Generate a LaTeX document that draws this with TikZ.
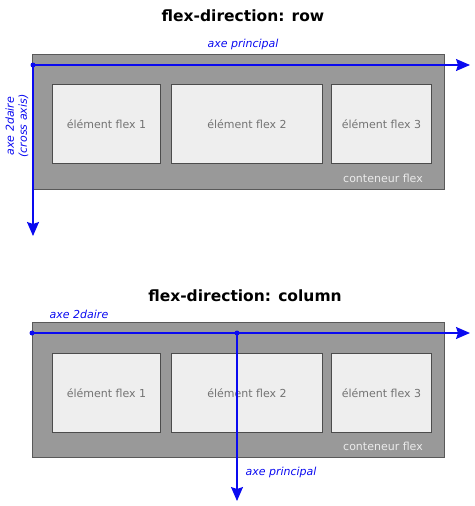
\documentclass[tikz,border=0pt]{standalone}
\usepackage{fontspec}
\setmainfont{DejaVu Sans}
\usetikzlibrary{arrows.meta}
\definecolor{axisblue}{RGB}{10,10,240}
\definecolor{boxgray}{RGB}{153,153,153}
\definecolor{itemgray}{RGB}{238,238,238}
\tikzset{
  container/.style={draw=black!65, fill=boxgray, line width=1pt, anchor=north west, inner sep=0pt},
  item/.style={draw=black!70, fill=itemgray, line width=1pt, anchor=north west, inner sep=0pt,
    font=\fontsize{11}{13}\selectfont, text=black!55},
  title/.style={font=\bfseries\fontsize{15.5}{18}\selectfont},
  axislabel/.style={font=\itshape\fontsize{11}{13}\selectfont, text=axisblue},
  boxlabel/.style={font=\fontsize{11}{13}\selectfont, text=white!92!black},
  axis/.style={draw=axisblue, line width=1.5pt, -{Stealth[length=14pt,width=12pt,inset=2pt]}},
  dot/.style={fill=axisblue, circle, inner sep=0pt, minimum size=5pt}
}

\begin{document}
\begin{tikzpicture}[x=1pt, y=-1pt]
			\useasboundingbox (0,0) rectangle (474,506);
			
			%%%%% ROW %%%%%
			
			\node[title] (rowtitle) at (243,16) {flex-direction: row};
			
			\node[container, minimum width=412pt, minimum height=135pt] (rowbox) at (32,54) {};
			\node[item, minimum width=108pt, minimum height=79pt] (rowA) at (52,84) {élément flex 1};
			\node[item, minimum width=151pt, minimum height=79pt] (rowB) at (171,84) {élément flex 2};
			\node[item, minimum width=100pt, minimum height=79pt] (rowC) at (331,84) {élément flex 3};
			\node[boxlabel] (rowname) at (383,178) {conteneur flex};
			
			\coordinate (roworigin) at (33,65);
			\coordinate (rowmainend) at (470,65);
			\coordinate (rowcrossend) at (33,236);
			\draw[axis] (roworigin) -- (rowmainend);
			\draw[axis] (roworigin) -- (rowcrossend);
			\node[dot] (rowdot) at (roworigin) {};
			
			\node[axislabel] (rowmain) at (243,44) {axe principal};
			\node[axislabel, rotate=90, align=center] (rowcross) at (17,126) {axe 2daire\\(cross axis)};
			
			%%%%% COLUMN %%%%%
			
			\node[title] (coltitle) at (245,296) {flex-direction: column};
			
			\node[container, minimum width=412pt, minimum height=135pt] (colbox) at (32,322) {};
			\node[item, minimum width=108pt, minimum height=79pt] (colA) at (52,353) {élément flex 1};
			\node[item, minimum width=151pt, minimum height=79pt] (colB) at (171,353) {élément flex 2};
			\node[item, minimum width=100pt, minimum height=79pt] (colC) at (331,353) {élément flex 3};
			\node[boxlabel] (colname) at (383,446) {conteneur flex};
			
			\coordinate (colorigin) at (32,333);
			\coordinate (colcrossend) at (470,333);
			\coordinate (colmainstart) at (237,333);
			\coordinate (colmainend) at (237,501);
			\draw[axis] (colorigin) -- (colcrossend);
			\draw[axis] (colmainstart) -- (colmainend);
			\node[dot] (coldotA) at (colorigin) {};
			\node[dot] (coldotB) at (colmainstart) {};
			
			\node[axislabel] (colcross) at (79,314) {axe 2daire};
			\node[axislabel, anchor=west] (colmain) at (242,472) {axe principal};
			
			%%%%% END %%%%%
\end{tikzpicture}
\end{document}
